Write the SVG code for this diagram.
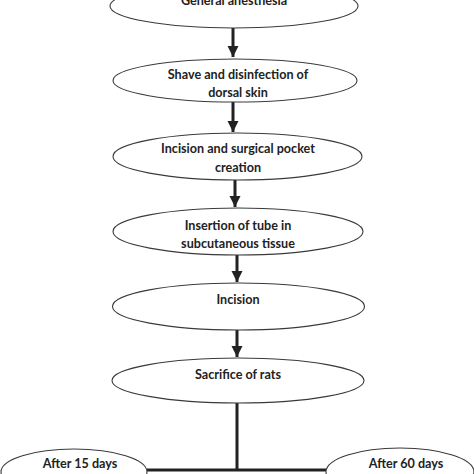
<svg xmlns="http://www.w3.org/2000/svg" width="474" height="474" viewBox="0 0 474 474">
<style>
.node ellipse{fill:#fff;stroke:#3a3a3a;stroke-width:1.1}
.node text{font-family:Lato,"Liberation Sans",sans-serif;font-weight:bold;font-size:12.6px;fill:#222;text-anchor:middle}
.conn line{stroke:#222;stroke-width:3}
</style>
<defs>
<marker id="ah" markerUnits="userSpaceOnUse" markerWidth="12" markerHeight="12" viewBox="0 0 12 12" refX="11" refY="6" orient="auto">
<path d="M0,0.5 L11,6 L0,11.5 Z" fill="#222"/>
</marker>
</defs>
<rect width="474" height="474" fill="#fff"/>
<g id="connectors" class="conn">
<line x1="233" y1="28" x2="233" y2="57" marker-end="url(#ah)"/>
<line x1="233" y1="102" x2="233" y2="132" marker-end="url(#ah)"/>
<line x1="235" y1="180" x2="235" y2="207" marker-end="url(#ah)"/>
<line x1="237" y1="255" x2="237" y2="282" marker-end="url(#ah)"/>
<line x1="237" y1="330" x2="237" y2="357" marker-end="url(#ah)"/>
<line x1="237" y1="403" x2="237" y2="470"/>
<line x1="147" y1="470" x2="327" y2="470"/>
</g>
<g id="n1" class="node">
<ellipse cx="234" cy="6" rx="124" ry="22"/>
<text x="234" y="5">General anesthesia</text>
</g>
<g id="n2" class="node">
<ellipse cx="235" cy="80.5" rx="122" ry="21.5"/>
<text x="238" y="79">Shave and disinfection of</text>
<text x="238" y="97">dorsal skin</text>
</g>
<g id="n3" class="node">
<ellipse cx="237.5" cy="156.5" rx="124.5" ry="23.5"/>
<text x="238" y="153">Incision and surgical pocket</text>
<text x="238" y="172">creation</text>
</g>
<g id="n4" class="node">
<ellipse cx="238" cy="231.5" rx="125" ry="23.5"/>
<text x="238" y="230">Insertion of tube in</text>
<text x="238" y="248">subcutaneous tissue</text>
</g>
<g id="n5" class="node">
<ellipse cx="238.5" cy="306.5" rx="126" ry="23.5"/>
<text x="238" y="304">Incision</text>
</g>
<g id="n6" class="node">
<ellipse cx="238" cy="380.5" rx="126" ry="22.5"/>
<text x="238" y="379">Sacrifice of rats</text>
</g>
<g id="n7" class="node">
<ellipse cx="74" cy="472" rx="73" ry="23"/>
<text x="80" y="468">After 15 days</text>
</g>
<g id="n8" class="node">
<ellipse cx="400" cy="472" rx="74" ry="24"/>
<text x="406" y="468">After 60 days</text>
</g>
</svg>
